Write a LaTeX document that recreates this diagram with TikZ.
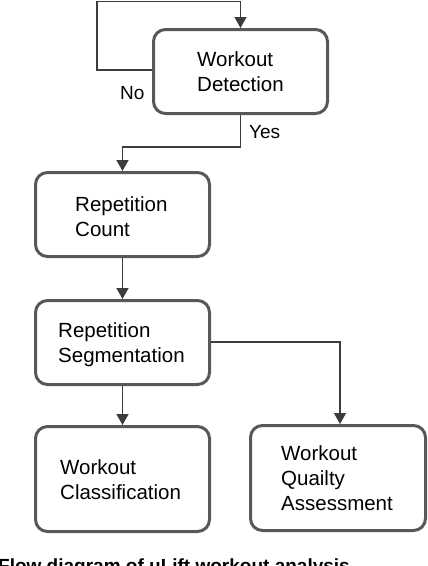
\documentclass[tikz,border=0pt]{standalone}
\usepackage{fontspec}
\setmainfont{Liberation Sans}
\usetikzlibrary{arrows.meta}
\definecolor{boxgray}{HTML}{585858}
\definecolor{linegray}{HTML}{3C3C3C}
\begin{document}
\begin{tikzpicture}[x=1pt,y=-1pt,
 box/.style={draw=boxgray, line width=3pt, rounded corners=12pt, fill=white, minimum width=174pt, inner sep=0pt},
 conn/.style={draw=linegray, line width=1.4pt},
 arr/.style={conn, -{Triangle[length=11pt,width=12pt]}},
 lbl/.style={font=\fontsize{20.5}{25}\selectfont, inner sep=0pt, anchor=base west, align=left, text=black},
 cond/.style={font=\fontsize{19}{23}\selectfont, inner sep=0pt, anchor=base west, text=black},
]
\useasboundingbox (0,0) rectangle (428,566);
% boxes
\node[box, minimum height=84pt] (wd) at (240.5,71.5) {};
\node[box, minimum height=84pt] (rc) at (122.5,214.5) {};
\node[box, minimum height=84pt] (rs) at (122.5,342.5) {};
\node[box, minimum height=105pt] (wc) at (122.5,479) {};
\node[box, minimum height=105pt, minimum width=175pt] (wq) at (338,478) {};
% texts (anchor = baseline of the last line)
\node[lbl] (twd) at (197,91) {Workout\\Detection};
\node[lbl] (trc) at (75,236) {Repetition\\Count};
\node[lbl] (trs) at (58,362) {Repetition\\Segmentation};
\node[lbl] (twc) at (60,499) {Workout\\Classification};
\node[lbl] (twq) at (281,510) {Workout\\Quailty\\Assessment};
\node[cond] (no) at (120,99) {No};
\node[cond] (yes) at (249,138) {Yes};
% connectors
\coordinate (la) at (97,70);
\coordinate (lb) at (97,1.5);
\coordinate (ya) at (240.5,147);
\coordinate (ra) at (340,342);
\draw[arr] (la -| wd.west) -- (la) -- (lb) -| (wd.north);
\draw[arr] (wd.south) -- (ya) -| (rc.north);
\draw[arr] (rc.south) -- (rs.north);
\draw[arr] (rs.south) -- (wc.north);
\draw[arr] (ra -| rs.east) -- (ra) -- (ra |- wq.north);
% caption (cut off at the bottom of the picture, as in the reference)
\node[font=\bfseries\fontsize{19}{22}\selectfont, anchor=base west, inner sep=0pt] (cap) at (-2,572) {Flow diagram of μLift workout analysis};
\end{tikzpicture}
\end{document}
